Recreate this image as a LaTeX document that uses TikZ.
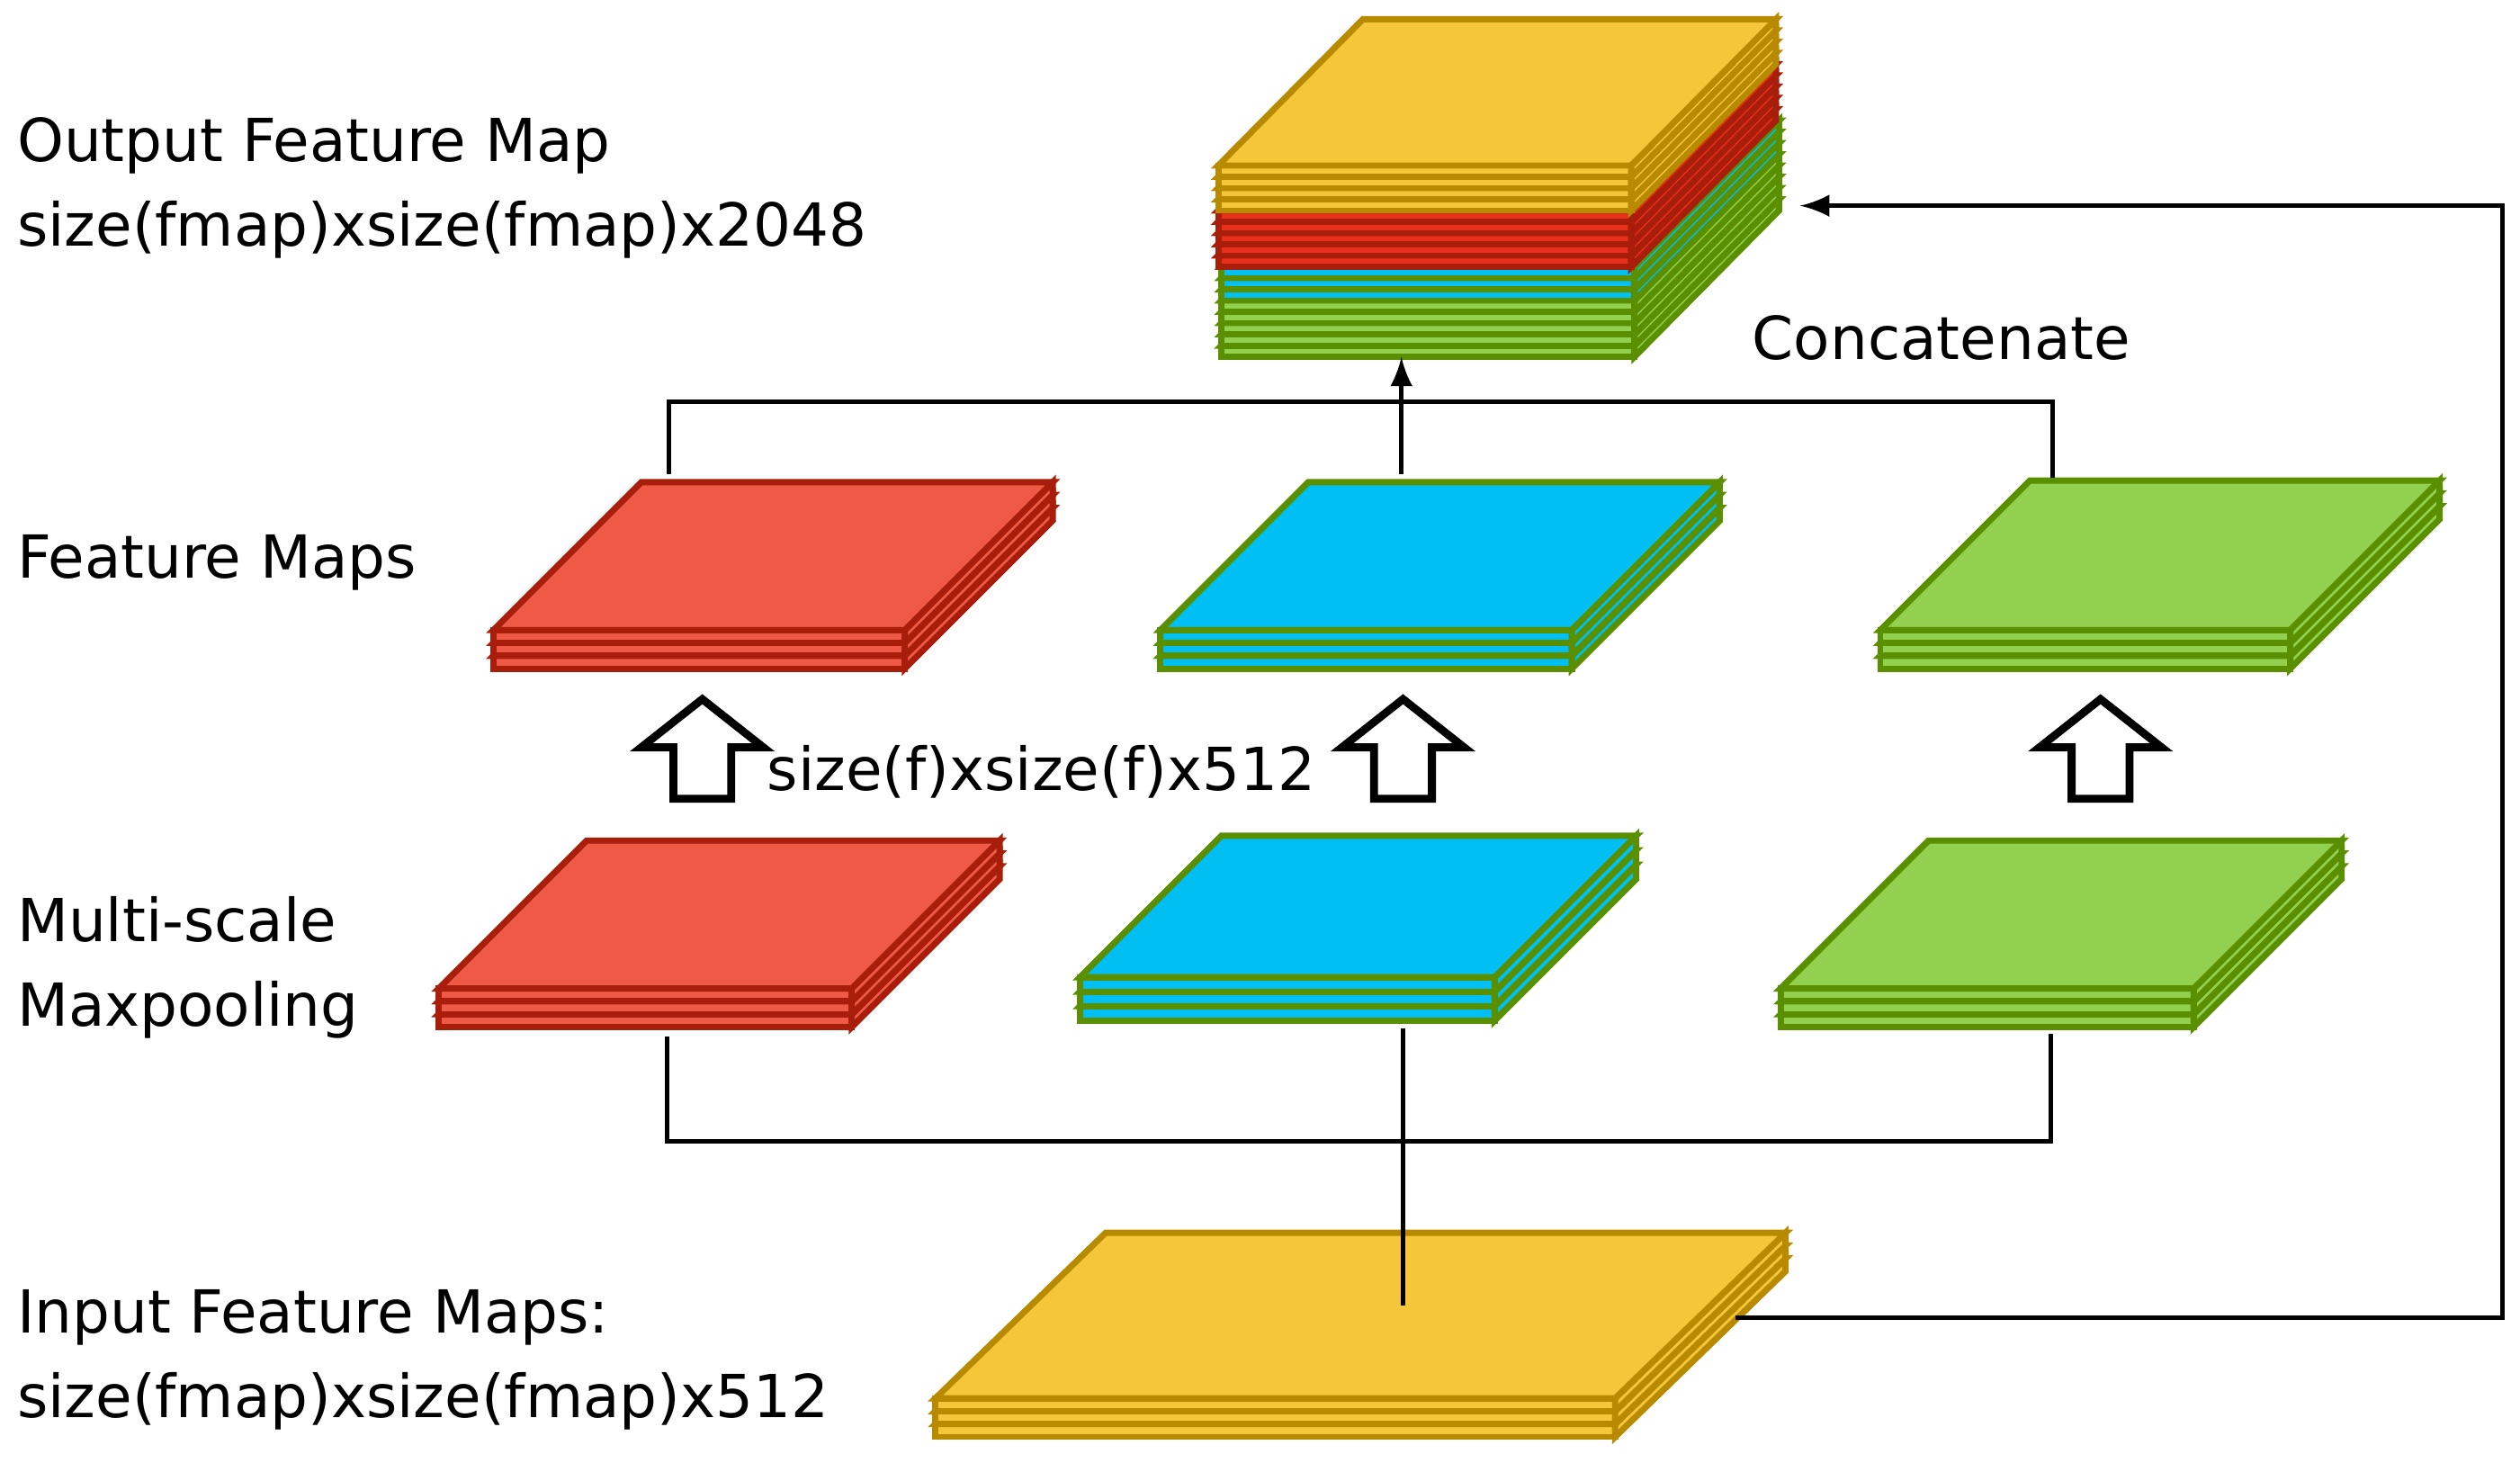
\documentclass[tikz,border=0pt]{standalone}
\usepackage{fontspec}
\setmainfont{DejaVu Sans}
\begin{document}
\definecolor{yel}{HTML}{F5C53A}\definecolor{yelE}{HTML}{B88A00}
\definecolor{red1}{HTML}{EE5A45}\definecolor{redE}{HTML}{A81E0A}\definecolor{red2}{HTML}{E8301A}
\definecolor{blu}{HTML}{00BFF2}\definecolor{grnE}{HTML}{5A8F00}\definecolor{grn}{HTML}{92D050}
\newcommand\slab[9]{%
\foreach \k in {#6,...,0}{%
\draw[fill=#8,draw=#9,line width=1.1pt,line join=miter] ({#1},{#2+\k*#7}) rectangle ({#1+#3},{#2+(\k+1)*#7});
\draw[fill=#8,draw=#9,line width=1.1pt] ({#1+#3},{#2+\k*#7}) -- ++(#4,-#5) -- ++(0,#7) -- ({#1+#3},{#2+(\k+1)*#7}) -- cycle;
\draw[fill=#8,draw=#9,line width=1.1pt] ({#1},{#2+\k*#7}) -- ++(#4,-#5) -- ++(#3,0) -- ++(-#4,#5) -- cycle;}}
\newcommand\hollow[2]{\draw[line width=1.4pt,fill=white] (#1-18,#2) -- (#1+18,#2) -- (#1+18,#2-32) -- (#1+38,#2-32) -- (#1,#2-62) -- (#1-38,#2-32) -- (#1-18,#2-32) -- cycle;}
\begin{tikzpicture}[x=0.01cm,y=-0.01cm,
 lab/.style={anchor=west,align=left,font=\fontsize{10.5}{15}\selectfont,inner sep=0pt},
 con/.style={line width=0.8pt}]
\useasboundingbox (0,0) rectangle (1568,910);
% output stack
\slab{760}{187}{257}{90}{91}{4}{7}{grn}{grnE}
\slab{760}{166}{257}{90}{91}{2}{7}{blu}{grnE}
\slab{758}{131}{257}{90}{91}{4}{7}{red2}{redE}
\slab{758}{103}{257}{90}{91}{3}{7}{yel}{yelE}
% row 2
\slab{307}{392}{256}{92}{92}{2}{8}{red1}{redE}
\slab{722}{392}{256}{92}{92}{2}{8}{blu}{grnE}
\slab{1170}{392}{255}{93}{93}{2}{8}{grn}{grnE}
% row 3
\slab{273}{615}{257}{92}{92}{2}{8}{red1}{redE}
\slab{672}{608}{258}{88}{88}{2}{9}{blu}{grnE}
\slab{1108}{615}{257}{92}{92}{2}{8}{grn}{grnE}
% input
\slab{582}{870}{423}{106}{103}{2}{8}{yel}{yelE}
\hollow{437}{497}\hollow{873}{497}\hollow{1307}{497}
\coordinate (out) at (872,222);
\coordinate (outR) at (1120,128);
\coordinate (in) at (873,812);
\coordinate (inR) at (1080,820);
\coordinate (r3a) at (415,645);\coordinate (r3b) at (873,640);\coordinate (r3c) at (1276,643);
\coordinate (r2a) at (416,295);\coordinate (r2b) at (872,295);\coordinate (r2c) at (1277,297);
\draw[con] (in) -- (r3b);
\draw[con] (r3a) |- (873,710) -| (r3c);
\draw[con] (r2a) |- (r2c |- 0,250) -- (r2c);
\draw[con,-latex] (r2b) -- (out);
\draw[con,-latex] (inR) -- (1557,820) |- (outR);
\node[lab] (t1) at (10,117) {Output Feature Map\\size(fmap)xsize(fmap)x2048};
\node[lab] (t2) at (10,350) {Feature Maps};
\node[lab] (t3) at (10,602) {Multi-scale\\Maxpooling};
\node[lab] (t4) at (10,846) {Input Feature Maps:\\size(fmap)xsize(fmap)x512};
\node[lab,anchor=center] (t5) at (648,480) {size(f)xsize(f)x512};
\node[lab,anchor=center] (t6) at (1208,210) {Concatenate};
\end{tikzpicture}
\end{document}
